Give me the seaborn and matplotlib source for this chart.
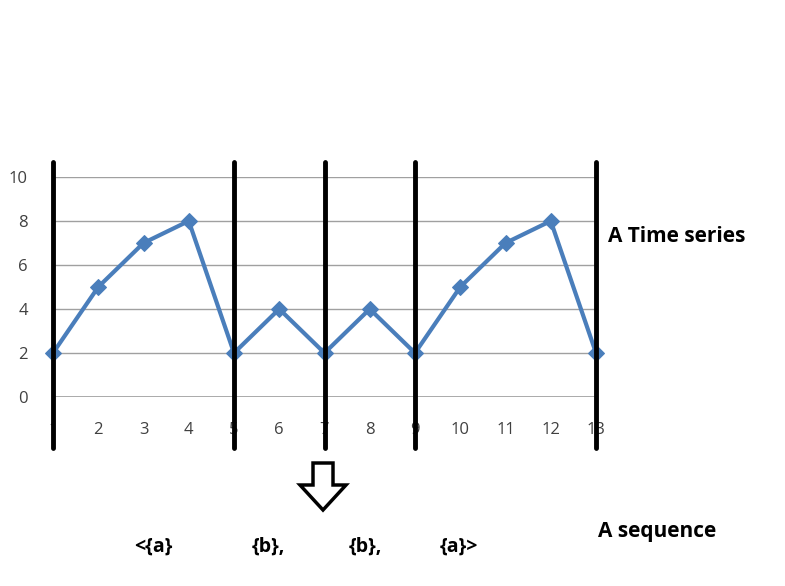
import matplotlib
matplotlib.use("Agg")
import matplotlib.pyplot as plt
import seaborn as sns
import pandas as pd
from matplotlib.patches import Polygon

x_vals = [1, 2, 3, 4, 5, 6, 7, 8, 9, 10, 11, 12, 13]
y_vals = [2, 5, 7, 8, 2, 4, 2, 4, 2, 5, 7, 8, 2]
cuts = [1, 5, 7, 9, 13]
seq_labels = ["<{a}", "{b},", "{b},", "{a}>"]
seq_x = [153, 268, 365, 459]

sns.set_style("white")
plt.rcParams['font.family'] = ['Open Sans', 'DejaVu Sans']
plt.rcParams['text.color'] = 'black'
W, H = 785, 586
fig = plt.figure(figsize=(W/100, H/100), dpi=100)
ax = fig.add_axes([53/W, 1-397/H, (596-53)/W, 220/H])
df = pd.DataFrame({"x": x_vals, "y": y_vals})
sns.lineplot(data=df, x="x", y="y", ax=ax, color="#4A7EBB", lw=3,
             marker="D", markersize=8, markeredgecolor="#4A7EBB", clip_on=False, zorder=4)
ax.set_xlim(1, 13)
ax.set_ylim(0, 10)
ax.set_yticks(range(0, 11, 2))
ax.set_xticks(x_vals)
ax.grid(axis="y", color="#A0A0A0", lw=1)
for s in ["top", "right", "bottom", "left"]:
    ax.spines[s].set_visible(False)
ax.axhline(0, color="#A0A0A0", lw=1.2, zorder=3)
ax.tick_params(axis="both", length=0, labelsize=12, colors="#404040")
ax.tick_params(axis="x", pad=18)
ax.tick_params(axis="y", pad=18)
ax.set_xlabel("")
ax.set_ylabel("")
for c in cuts:
    ax.axvline(c, ymin=-51/220, ymax=235/220, color="black", lw=3.5, clip_on=False, zorder=5)

fig.text(608/W, 1-237/H, "A Time series", fontsize=15, fontweight="bold", va="center")
fig.text(598/W, 1-532/H, "A sequence", fontsize=15, fontweight="bold", va="center")
for lab, sx in zip(seq_labels, seq_x):
    fig.text(sx/W, 1-547/H, lab, fontsize=14, fontweight="bold", va="center", ha="center")

pts = [(313, 463), (333, 463), (333, 485), (346, 485), (323, 510), (300, 485), (313, 485)]
poly = Polygon([(px/W, 1-py/H) for px, py in pts], closed=True, fill=False,
               edgecolor="black", lw=2.5, transform=fig.transFigure)
fig.patches.append(poly)
fig.savefig("out.png", dpi=100)
